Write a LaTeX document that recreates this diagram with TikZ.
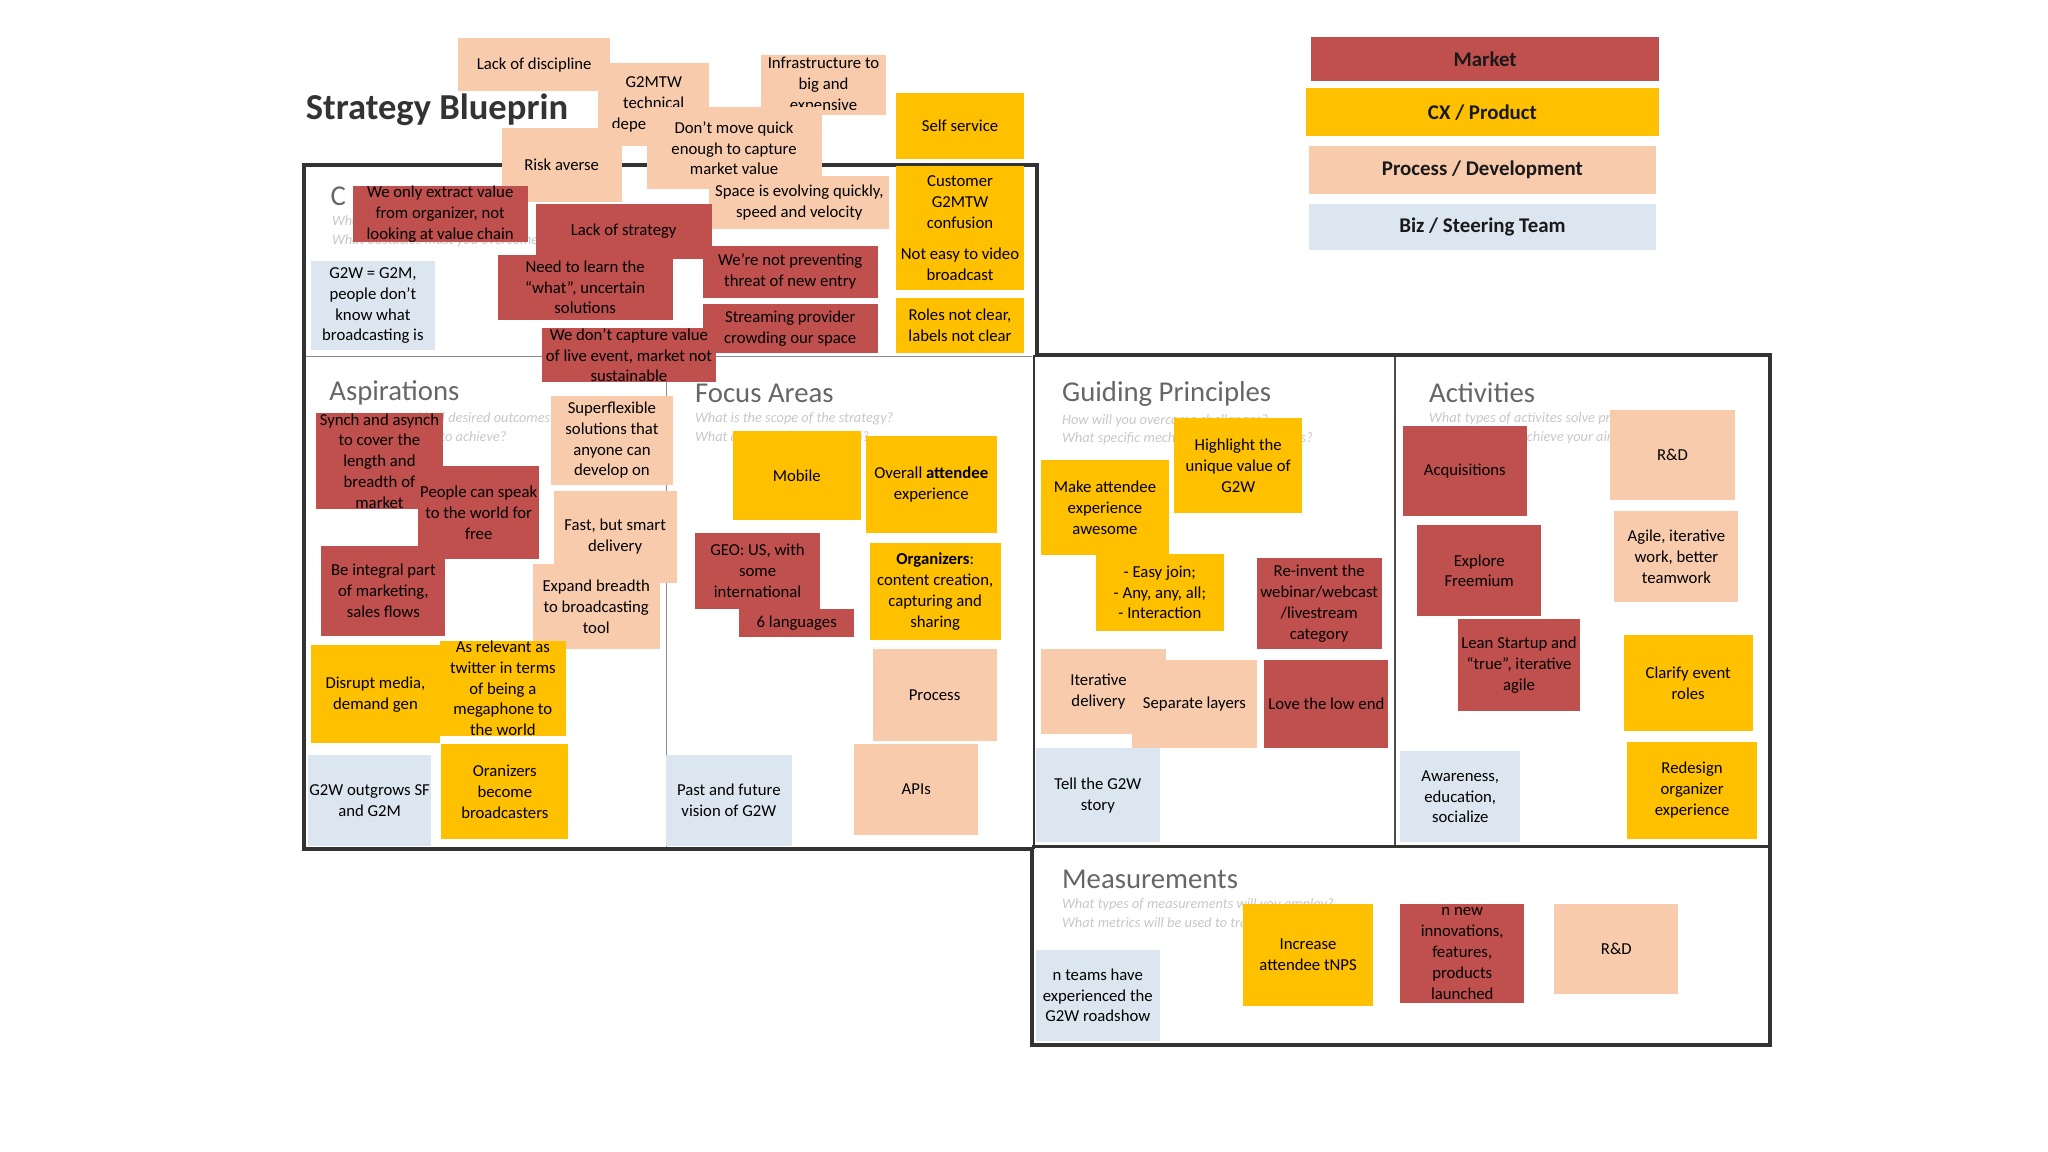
\documentclass[tikz,border=0pt]{standalone}
\usepackage{fontspec}
\setmainfont{Carlito}
\definecolor{cred}{HTML}{C0504D}
\definecolor{cyel}{HTML}{FFC000}
\definecolor{cpea}{HTML}{F8CBAD}
\definecolor{cblu}{HTML}{DCE6F1}
\definecolor{frame}{HTML}{333333}
\tikzset{
 red/.style={fill=cred},
 yel/.style={fill=cyel},
 pea/.style={fill=cpea},
 blu/.style={fill=cblu},
 stk/.style={inner sep=0pt,align=center,font=\fontsize{12.8}{16}\selectfont,text=black},
 hdr/.style={anchor=west,font=\fontsize{22}{24}\selectfont,text=black!60,inner sep=0pt},
 sub/.style={anchor=north west,align=left,font=\fontsize{11}{14}\selectfont\itshape,text=black!22,inner sep=0pt},
 leg/.style={inner sep=0pt,font=\fontsize{16}{18}\selectfont\bfseries,text=black!90}
}
\newcommand\st[7]{\node[stk,#2,minimum width={#5pt-#3pt},minimum height={#6pt-#4pt}] (#1) at ({(#3+#5)/2},{-(#4+#6)/2}) {#7};}
\begin{document}
\begin{tikzpicture}[x=1pt,y=1pt]
\useasboundingbox (0,0) rectangle (1568,-882);
% frames
\draw[black!45,line width=0.8] (233,-273) -- (790,-273);
\draw[black!45,line width=0.8] (510,-273) -- (510,-650);
\draw[black!70,line width=1.2] (1068,-272) -- (1068,-648);
\draw[frame,line width=3] (233,-126) -- (794,-126) -- (794,-272) -- (1355,-272) -- (1355,-800) -- (790,-800) -- (790,-650) -- (233,-650) -- cycle;
\draw[frame,line width=1.5] (792,-272) -- (792,-650);
\draw[frame,line width=2] (790,-648) -- (1355,-648);
% headers
\node[hdr] (hc) at (253,-150) {C};
\node[sub] (sc) at (254,-165) {What challenges do you face?\\What obstacles must you overcome?};
\node[hdr] (ha) at (252,-301) {Aspirations};
\node[sub] (sa) at (252,-316) {What are your ideal desired outcomes?\\What do you want to achieve?};
\node[hdr] (hf) at (532,-301) {Focus Areas};
\node[sub] (sf) at (532,-316) {What is the scope of the strategy?\\What areas will you focus on?};
\node[hdr] (hg) at (813,-302) {Guiding Principles};
\node[sub] (sg) at (813,-317) {How will you overcome challenges?\\What specific mechanisms solve problems?};
\node[hdr] (hac) at (1094,-301) {Activities};
\node[sub] (sac) at (1094,-316) {What types of activites solve problems?\\What activities achieve your aims?};
\node[hdr] (hm) at (813,-673) {Measurements};
\node[sub] (sm) at (813,-688) {What types of measurements will you employ?\\What metrics will be used to track progress?};
% legend
\node[leg,fill=cred,minimum width=266pt,minimum height=34pt] (l1) at (1137,-45) {Market};
\node[leg,fill=cyel,minimum width=270pt,minimum height=37pt] (l2) at (1135,-86) {CX / Product};
\node[leg,fill=cpea,minimum width=266pt,minimum height=37pt] (l3) at (1135,-130) {Process / Development};
\node[leg,fill=cblu,minimum width=266pt,minimum height=35pt] (l4) at (1135,-174) {Biz / Steering Team};
% challenges
\st{a1}{pea}{351}{29}{467}{70}{Lack of discipline}
\st{a2}{pea}{458}{48}{543}{112}{G2MTW\\technical\\dependency}
\st{a3}{pea}{583}{42}{678}{88}{Infrastructure to\\big and\\expensive}
\st{a4}{pea}{384}{98}{476}{155}{Risk averse}
\st{a5}{pea}{495}{82}{629}{145}{Don’t move quick\\enough to capture\\market value}
\st{a6}{yel}{686}{71}{784}{122}{Self service}
\st{a7}{pea}{543}{135}{681}{175}{Space is evolving quickly,\\speed and velocity}
\st{a8}{yel}{686}{127}{784}{222}{Customer\\G2MTW\\confusion\\[8pt]Not easy to video\\broadcast}
\st{a9}{yel}{686}{228}{784}{270}{Roles not clear,\\labels not clear}
\st{a10}{red}{270}{145}{404}{183}{We only extract value\\from organizer, not\\looking at value chain}
\st{a11}{blu}{238}{200}{333}{268}{G2W = G2M,\\people don’t\\know what\\broadcasting is}
\st{a12}{red}{410}{156}{545}{198}{Lack of strategy}
\st{a13}{red}{381}{195}{515}{245}{Need to learn the\\“what”, uncertain\\solutions}
\st{a14}{red}{538}{188}{672}{228}{We’re not preventing\\threat of new entry}
\st{a15}{red}{538}{233}{672}{270}{Streaming provider\\crowding our space}
\st{a16}{red}{415}{252}{548}{292}{We don’t capture value\\of live event, market not\\sustainable}
% title
\node[anchor=west,inner sep=0pt,font=\fontsize{28}{30}\selectfont\bfseries,text=black!80] (title) at (234,-84) {Strategy Blueprin};
% aspirations
\st{b1}{red}{242}{318}{339}{388}{Synch and asynch\\to cover the\\length and\\breadth of\\market}
\st{b2}{red}{320}{357}{413}{428}{People can speak\\to the world for\\free}
\st{b3}{pea}{422}{303}{515}{371}{Superflexible\\solutions that\\anyone can\\develop on}
\st{b4}{pea}{424}{376}{518}{446}{Fast, but smart\\delivery}
\st{b5}{red}{246}{418}{341}{487}{Be integral part\\of marketing,\\sales flows}
\st{b6}{pea}{408}{432}{505}{497}{Expand breadth\\to broadcasting\\tool}
\st{b7}{yel}{238}{494}{337}{569}{Disrupt media,\\demand gen}
\st{b8}{yel}{337}{492}{433}{562}{As relevant as\\twitter in terms\\of being a\\megaphone to\\the world}
\st{b9}{blu}{236}{578}{330}{648}{G2W outgrows SF\\and G2M}
\st{b10}{yel}{338}{570}{435}{642}{Oranizers\\become\\broadcasters}
% focus
\st{c1}{yel}{561}{330}{659}{398}{Mobile}
\st{c2}{yel}{663}{334}{763}{408}{Overall \textbf{attendee}\\experience}
\st{c3}{red}{532}{408}{628}{466}{GEO: US, with\\some\\international}
\st{c3b}{red}{566}{466}{654}{488}{6 languages}
\st{c4}{yel}{666}{416}{766}{490}{\textbf{Organizers}:\\content creation,\\capturing and\\sharing}
\st{c5}{pea}{668}{497}{763}{567}{Process}
\st{c6}{pea}{654}{570}{749}{639}{APIs}
\st{c7}{blu}{510}{578}{606}{648}{Past and future\\vision of G2W}
% guiding
\st{d1}{yel}{899}{320}{997}{393}{Highlight the\\unique value of\\G2W}
\st{d2}{yel}{797}{352}{895}{425}{Make attendee\\experience\\awesome}
\st{d3}{yel}{839}{424}{937}{483}{- Easy join;\\- Any, any, all;\\- Interaction}
\st{d4}{red}{962}{427}{1058}{497}{Re-invent the\\webinar/webcast\\/livestream\\category}
\st{d5}{pea}{797}{497}{893}{562}{\hspace*{-8pt}Iterative\\\hspace*{-8pt}delivery}
\st{d6}{pea}{867}{505}{962}{573}{Separate layers}
\st{d7}{red}{968}{505}{1063}{573}{Love the low end}
\st{d8}{blu}{793}{573}{888}{645}{Tell the G2W\\story}
% activities
\st{e1}{red}{1074}{326}{1169}{395}{Acquisitions}
\st{e2}{pea}{1233}{314}{1328}{383}{R\&D}
\st{e3}{red}{1085}{402}{1180}{472}{Explore\\Freemium}
\st{e4}{pea}{1236}{391}{1331}{461}{Agile, iterative\\work, better\\teamwork}
\st{e5}{red}{1116}{474}{1210}{544}{Lean Startup and\\“true”, iterative\\agile}
\st{e6}{yel}{1243}{486}{1342}{560}{Clarify event\\roles}
\st{e7}{blu}{1072}{575}{1164}{645}{Awareness,\\education,\\socialize}
\st{e8}{yel}{1246}{568}{1345}{642}{Redesign\\organizer\\experience}
% measurements
\st{f1}{blu}{793}{727}{888}{797}{n teams have\\experienced the\\G2W roadshow}
\st{f2}{yel}{952}{692}{1051}{770}{Increase\\attendee tNPS}
\st{f3}{red}{1072}{692}{1167}{768}{n new\\innovations,\\features,\\products\\launched}
\st{f4}{pea}{1190}{692}{1285}{761}{R\&D}
\end{tikzpicture}
\end{document}
